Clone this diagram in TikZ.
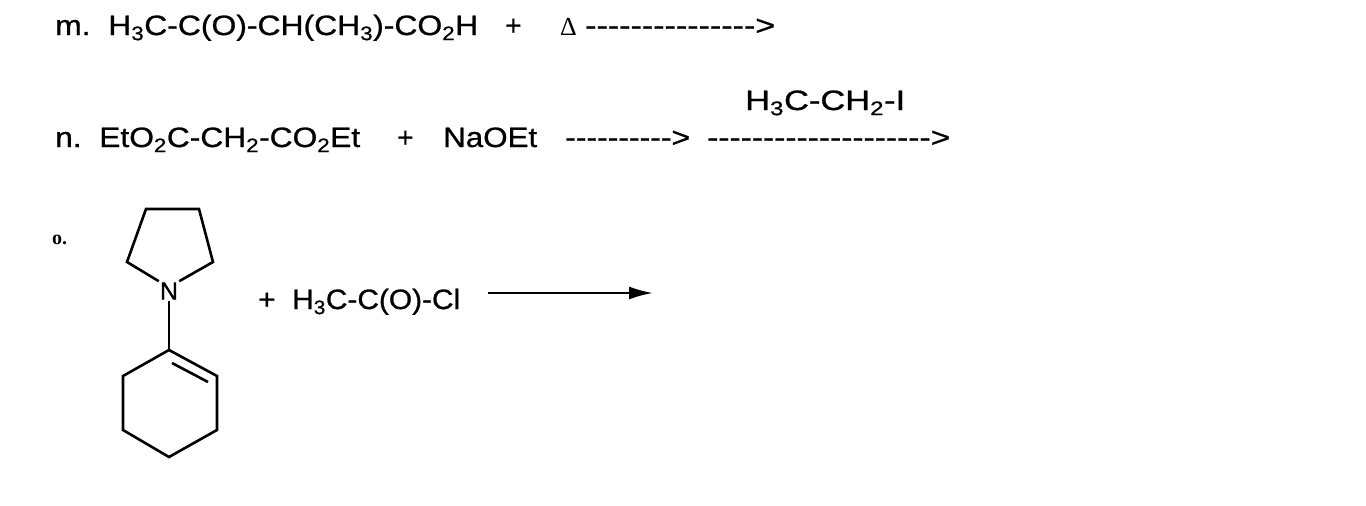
\documentclass[tikz,border=0pt]{standalone}
\usepackage{fontspec}
\setmainfont{Liberation Sans}[FakeBold=0.8,AutoFakeBold=0.8]
\newfontfamily\serifdelta{Liberation Serif}
\usetikzlibrary{arrows.meta}
\tikzset{
  txt/.style={anchor=base west,inner sep=0pt,font=\fontsize{28}{30}\selectfont\bfseries},
  bond/.style={line width=2.6pt,line join=miter}
}
\newcommand{\sbs}[1]{\textsubscript{#1}}
\newcommand{\hy}[1]{\foreach \i in {1,...,#1}{-{}}>}
\newcommand{\sx}[2]{\resizebox{#1}{\height}{#2}}
\begin{document}
\begin{tikzpicture}[x=1pt,y=-1pt]
\useasboundingbox (0,0) rectangle (1366,506);
% line m
\node[txt] (m) at (55,35) {\sx{423pt}{m.\ \ H\sbs{3}C-C(O)-CH(CH\sbs{3})-CO\sbs{2}H}};
\node[txt] (mplus) at (505,35) {+};
\node[txt,font=\fontsize{26}{28}\selectfont\serifdelta\mdseries] (mdelta) at (560,35) {Δ};
\node[txt] (mdash) at (585,35) {\sx{190pt}{\hy{15}}};
% line n
\node[txt] (n) at (55,147) {\sx{305pt}{n.\ \ EtO\sbs{2}C-CH\sbs{2}-CO\sbs{2}Et}};
\node[txt] (nplus) at (397,147) {+};
\node[txt] (nbase) at (443,147) {\sx{94pt}{NaOEt}};
\node[txt] (nd1) at (565,147) {\sx{125pt}{\hy{10}}};
\node[txt] (nd2) at (707,147) {\sx{243pt}{\hy{20}}};
\node[txt] (etI) at (745,110) {\sx{160pt}{H\sbs{3}C-CH\sbs{2}-I}};
% line o
\node[anchor=base west,inner sep=0pt,font=\serifdelta\fontsize{20}{22}\selectfont\bfseries] (o) at (52,244) {o.};
\node[font=\fontsize{25}{26}\selectfont,inner sep=1pt] (N) at (169,291) {N};
\coordinate (p1) at (146,209);
\coordinate (p2) at (199,209);
\coordinate (p3) at (213,262);
\coordinate (p4) at (127,262);
\draw[bond] (N.north east) -- (p3) -- (p2) -- (p1) -- (p4) -- (N.north west);
\coordinate (h1) at (169,350);
\coordinate (h2) at (217,376);
\coordinate (h3) at (217,430);
\coordinate (h4) at (169,457);
\coordinate (h5) at (123,430);
\coordinate (h6) at (123,376);
\draw[bond] (N.south) -- (h1);
\draw[bond] (h1) -- (h2) -- (h3) -- (h4) -- (h5) -- (h6) -- cycle;
\draw[bond] (172,363) -- (208,382);
\node[txt] (oplus) at (258,309) {\sx{202pt}{+ \ H\sbs{3}C-C(O)-Cl}};
\coordinate (aend) at (653,293);
\draw[line width=2.4pt,-{Latex[length=24pt,width=13pt]}] (488,293) -- (aend);
\end{tikzpicture}
\end{document}
